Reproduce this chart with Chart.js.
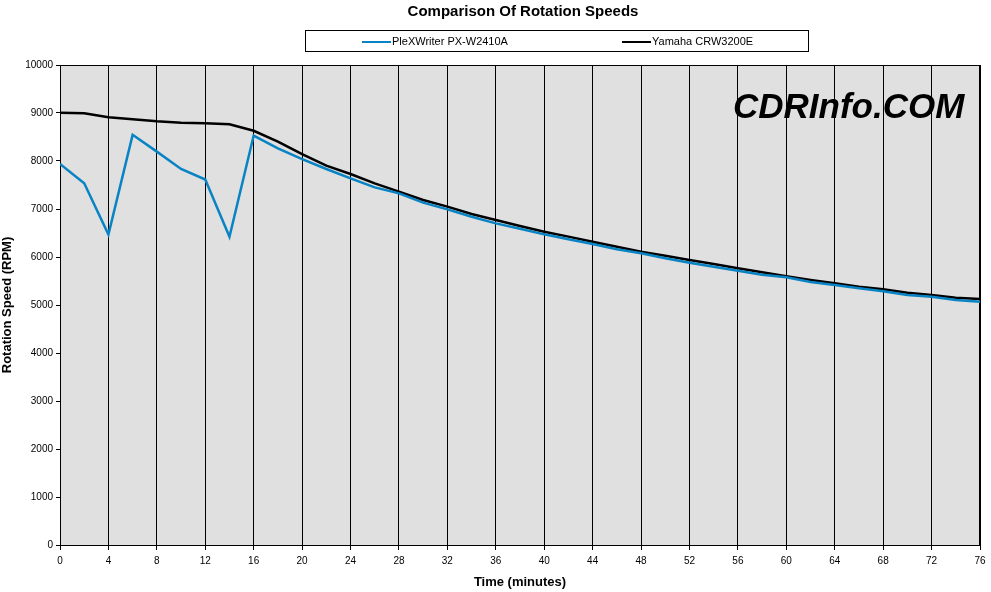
<!DOCTYPE html>
<html lang="en">
<head>
  <meta charset="UTF-8">
  <title>Comparison Of Rotation Speeds</title>
  <script src="https://cdn.jsdelivr.net/npm/chart.js"></script>
  <style>
    body { margin: 0; background: #fff; font-family: "Liberation Sans", Arial, sans-serif; }
    #wrap { position: relative; width: 991px; height: 592px; }
    #title { position: absolute; left: 0; width: 1046px; top: 2px; text-align: center; font-weight: bold; font-size: 15px; }
    #legend { position: absolute; left: 305px; top: 30px; width: 502px; height: 20px; border: 1px solid #000; font-size: 11px; }
    .item { position: absolute; top: 3px; line-height: 14px; }
    .item span { display: inline-block; width: 29px; height: 2px; vertical-align: middle; margin-right: 1px; }
  </style>
</head>
<body>
  <div id="wrap">
    <canvas id="rpmChart" width="991" height="592"></canvas>
    <div id="title">Comparison Of Rotation Speeds</div>
    <div id="legend">
      <div class="item" style="left:56px"><span style="background:#0883c4"></span>PleXWriter PX-W2410A</div>
      <div class="item" style="left:316px"><span style="background:#000"></span>Yamaha CRW3200E</div>
    </div>
  </div>

  <script>
    // Tiempo en minutos (un punto cada 2 minutos)
    const minutes = [0, 2, 4, 6, 8, 10, 12, 14, 16, 18, 20, 22, 24, 26, 28, 30, 32, 34, 36, 38,
      40, 42, 44, 46, 48, 50, 52, 54, 56, 58, 60, 62, 64, 66, 68, 70, 72, 74, 76];

    const plextor = [7940, 7535, 6470, 8545, 8195, 7835, 7615, 6420, 8530, 8264, 8040, 7833, 7639, 7451, 7326,
      7132, 6993, 6840, 6701, 6590, 6472, 6368, 6271, 6160, 6076, 5972, 5882, 5799, 5715, 5632,
      5576, 5479, 5417, 5347, 5285, 5208, 5174, 5104, 5069];

    const yamaha = [9007, 8993, 8910, 8868, 8826, 8799, 8785, 8764, 8630, 8403, 8142, 7903, 7729, 7535, 7361,
      7188, 7049, 6896, 6771, 6646, 6528, 6424, 6319, 6215, 6111, 6028, 5938, 5854, 5764, 5681,
      5597, 5521, 5451, 5382, 5326, 5257, 5208, 5153, 5125];

    const xTicks = [0, 4, 8, 12, 16, 20, 24, 28, 32, 36, 40, 44, 48, 52, 56, 60, 64, 68, 72, 76];
    const yTicks = [0, 1000, 2000, 3000, 4000, 5000, 6000, 7000, 8000, 9000, 10000];

    const toPoints = vals => vals.map((v, i) => ({ x: minutes[i], y: v }));

    // Fondo gris, marco y marca de agua
    const plotDecor = {
      id: 'plotDecor',
      beforeDraw(chart) {
        const { ctx, chartArea: a } = chart;
        ctx.save();
        ctx.fillStyle = '#e0e0e0';
        ctx.fillRect(a.left, a.top, a.right - a.left, a.bottom - a.top);
        ctx.restore();
      },
      beforeDatasetsDraw(chart) {
        const { ctx, chartArea: a } = chart;
        ctx.save();
        ctx.strokeStyle = '#000';
        ctx.lineWidth = 1;
        ctx.strokeRect(a.left + 0.5, a.top + 0.5, a.right - a.left - 1, a.bottom - a.top);
        ctx.fillStyle = '#000';
        ctx.font = 'italic bold 35px "Liberation Sans", Arial, sans-serif';
        ctx.textBaseline = 'alphabetic';
        ctx.fillText('CDRInfo.COM', 733, 118);
        ctx.restore();
      }
    };

    const ctx = document.getElementById('rpmChart').getContext('2d');
    const rpmChart = new Chart(ctx, {
      type: 'line',
      data: {
        datasets: [{
          label: 'PleXWriter PX-W2410A',
          data: toPoints(plextor),
          borderColor: '#0883c4',
          borderWidth: 2.5,
          pointRadius: 0,
          tension: 0,
          fill: false
        }, {
          label: 'Yamaha CRW3200E',
          data: toPoints(yamaha),
          borderColor: '#000000',
          borderWidth: 2.5,
          pointRadius: 0,
          tension: 0,
          fill: false
        }]
      },
      options: {
        responsive: false,
        animation: false,
        layout: { padding: { top: 65, right: 11, left: 0, bottom: 0 } },
        plugins: {
          legend: { display: false },
          title: { display: false },
          tooltip: { enabled: false }
        },
        scales: {
          x: {
            type: 'linear',
            min: 0,
            max: 76,
            afterBuildTicks: s => { s.ticks = xTicks.map(v => ({ value: v })); },
            afterFit: s => { s.height = 47; },
            grid: { color: '#000', lineWidth: 1, tickLength: 5, drawOnChartArea: true },
            border: { color: '#000' },
            ticks: { color: '#000', font: { family: 'Liberation Sans', size: 10 }, padding: 5, maxRotation: 0 },
            title: { display: true, text: 'Time (minutes)', color: '#000', font: { family: 'Liberation Sans', size: 13, weight: 'bold' }, padding: { top: 6, bottom: 2 } }
          },
          y: {
            min: 0,
            max: 10000,
            afterBuildTicks: s => { s.ticks = yTicks.map(v => ({ value: v })); },
            afterFit: s => { s.width = 60; },
            grid: { drawOnChartArea: false, color: '#000', tickLength: 4 },
            border: { color: '#000' },
            ticks: { color: '#000', font: { family: 'Liberation Sans', size: 10 }, padding: 3, callback: v => String(v) },
            title: { display: true, text: 'Rotation Speed (RPM)', color: '#000', font: { family: 'Liberation Sans', size: 13, weight: 'bold' }, padding: { top: 0, bottom: 4 } }
          }
        }
      },
      plugins: [plotDecor]
    });
  </script>
</body>
</html>
